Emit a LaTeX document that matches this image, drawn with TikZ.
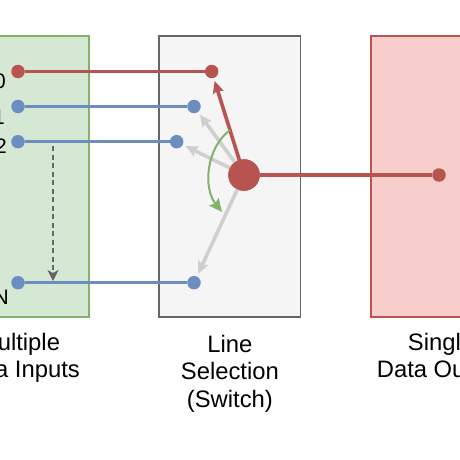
\documentclass[tikz,border=0pt]{standalone}
\usepackage{fontspec}
\setmainfont{Liberation Sans}
\usetikzlibrary{arrows.meta}
\definecolor{gfill}{HTML}{D5E8D4}
\definecolor{gline}{HTML}{82B366}
\definecolor{kfill}{HTML}{F5F5F5}
\definecolor{kline}{HTML}{666666}
\definecolor{rfill}{HTML}{F8CECC}
\definecolor{rline}{HTML}{B85450}
\definecolor{bline}{HTML}{6C8EBF}
\definecolor{lgray}{HTML}{CFCFCF}
\begin{document}
\begin{tikzpicture}[x=1pt,y=-1pt,
  box/.style={draw, line width=1.5pt, minimum width=140pt, minimum height=281pt, inner sep=0},
  dot/.style={circle, inner sep=0, minimum size=13.5pt},
  bigdot/.style={circle, fill=rline, inner sep=0, minimum size=31.5pt},
  wire/.style={line width=3.3pt},
  sw/.style={line width=3.6pt, -{Stealth[length=12pt,width=11pt,inset=2pt]}, shorten >=3pt},
  lbl/.style={font=\fontsize{23.8}{27.5}\selectfont, align=center, inner sep=0, anchor=north},
  num/.style={font=\fontsize{21}{24}\selectfont, inner sep=0, anchor=east}
]
\useasboundingbox (0,0) rectangle (460,460);
\clip (0,0) rectangle (460,460);

% boxes
\node[box, draw=gline, fill=gfill] (gbox) at (19,176.5) {};
\node[box, draw=kline, fill=kfill, minimum width=141.7pt] (kbox) at (229.85,176.5) {};
\node[box, draw=rline, fill=rfill] (rbox) at (441,176.5) {};

% input dots
\node[dot, fill=rline] (in0) at (18,71.5) {};
\node[dot, fill=bline] (in1) at (18,106.5) {};
\node[dot, fill=bline] (in2) at (18,141.7) {};
\node[dot, fill=bline] (inN) at (18,282.7) {};
% switch dots
\node[dot, fill=rline] (s0) at (211.7,71.5) {};
\node[dot, fill=bline] (s1) at (194,106.5) {};
\node[dot, fill=bline] (s2) at (176.7,141.7) {};
\node[dot, fill=bline] (sN) at (194,282.7) {};
% hub and output
\node[bigdot] (hub) at (244,175) {};
\node[dot, fill=rline] (out) at (439,175) {};
\node[dot, fill=kline!60!rline, minimum size=14pt] (nxt) at (467,175) {};

% wires
\draw[wire, rline] (in0) -- (s0);
\draw[wire, bline] (in1) -- (s1);
\draw[wire, bline] (in2) -- (s2);
\draw[wire, bline] (inN) -- (sN);
\draw[wire, rline] (hub) -- (out);

% switch arrows
\draw[sw, lgray] (hub.center) -- (s1);
\draw[sw, lgray] (hub.center) -- (s2);
\draw[sw, lgray] (hub.center) -- (sN);
\draw[sw, rline] (hub.center) -- (s0);
\node[bigdot] at (hub) {};

% rotation arrow
\coordinate (ga) at (230,130);
\coordinate (gb) at (222,212);
\draw[gline, line width=2pt, -{Stealth[length=13pt,width=12pt,inset=2pt]}]
  (ga) .. controls (206,148) and (203,188) .. (gb);

% dashed arrow
\coordinate (da) at (53,146);
\coordinate (db) at (53,281);
\draw[kline, line width=1.4pt, dash pattern=on 5pt off 3.5pt,
  -{Stealth[length=11pt,width=11pt,inset=3pt]}] (da) -- (db);

% numbers
\node[num] (n0) at (6,81.5) {0};
\node[num] (n1) at (5,117) {1};
\node[num] (n2) at (7,146) {2};
\node[num] (nN) at (9,297) {N};

% captions
\node[lbl] (cin) at (19,333) {Multiple\\Data Inputs};
\node[lbl] (csw) at (229.85,335) {Line\\Selection\\(Switch)};
\node[lbl] (cout) at (441,333) {Single\\Data Output};
\end{tikzpicture}
\end{document}
